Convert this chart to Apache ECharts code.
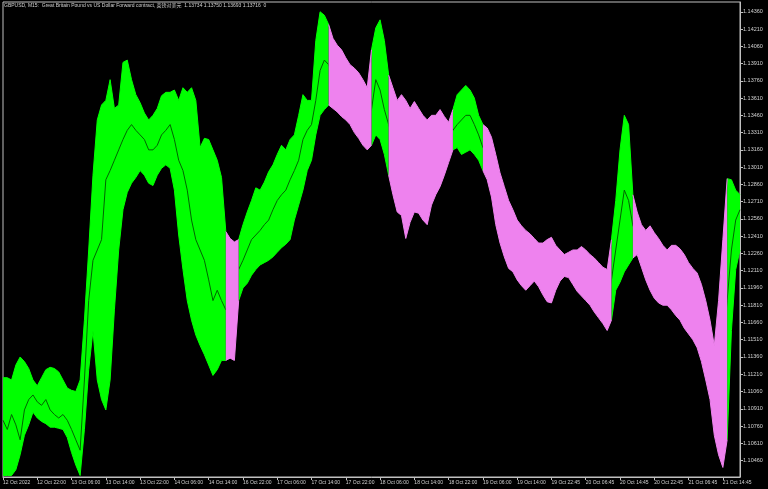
<!DOCTYPE html>
<html><head><meta charset="utf-8">
<script src="https://cdn.jsdelivr.net/npm/echarts@6/dist/echarts.min.js"></script>
<style>html,body{margin:0;padding:0;background:#000;}#c{width:768px;height:489px;}</style>
</head><body><div id="c"></div>
<script>
const chartTitle = 'GBPUSD, M15:  Great Britain Pound vs US Dollar Forward contract, 英镑对美元  1.13734 1.13750 1.13693 1.13716  0';
const tickLabels = ['12 Oct 2022','12 Oct 22:00','13 Oct 06:00','13 Oct 14:00','13 Oct 22:00','14 Oct 06:00','14 Oct 14:00','16 Oct 22:00','17 Oct 06:00','17 Oct 14:00','17 Oct 22:00','18 Oct 06:00','18 Oct 14:00','18 Oct 22:00','19 Oct 06:00','19 Oct 14:00','19 Oct 22:45','20 Oct 06:45','20 Oct 14:45','20 Oct 22:45','21 Oct 06:45','21 Oct 14:45'];
const priceTicks = [1.10460,1.10610,1.10760,1.10910,1.11060,1.11210,1.11360,1.11510,1.11660,1.11810,1.11960,1.12110,1.12260,1.12410,1.12560,1.12710,1.12860,1.13010,1.13160,1.13310,1.13460,1.13610,1.13760,1.13910,1.14060,1.14210,1.14360];
const upper = [1.1118,1.1118,1.1116,1.1129,1.1136,1.1132,1.1126,1.1116,1.1111,1.1118,1.1125,1.1127,1.1126,1.1123,1.1116,1.1109,1.1107,1.1106,1.1116,1.1168,1.1229,1.1294,1.1342,1.1355,1.1359,1.1377,1.1352,1.1355,1.1392,1.1394,1.1377,1.1364,1.1357,1.1348,1.1342,1.1346,1.1352,1.1363,1.1366,1.1366,1.1368,1.1359,1.1370,1.1366,1.1370,1.1359,1.1318,1.1326,1.1325,1.1316,1.1307,1.1292,1.1245,1.1239,1.1236,1.1238,1.1251,1.1262,1.1272,1.1283,1.1281,1.1288,1.1297,1.1303,1.1312,1.1320,1.1316,1.1325,1.1329,1.1346,1.1364,1.1359,1.1359,1.1411,1.1436,1.1433,1.1425,1.1413,1.1407,1.1403,1.1396,1.1390,1.1387,1.1383,1.1377,1.1370,1.1403,1.1422,1.1429,1.1411,1.1381,1.1370,1.1359,1.1364,1.1359,1.1352,1.1358,1.1352,1.1346,1.1342,1.1346,1.1346,1.1351,1.1345,1.1340,1.1351,1.1364,1.1368,1.1372,1.1368,1.1361,1.1346,1.1338,1.1335,1.1327,1.1312,1.1296,1.1284,1.1272,1.1264,1.1255,1.1250,1.1246,1.1243,1.1239,1.1235,1.1235,1.1238,1.1240,1.1233,1.1229,1.1225,1.1227,1.1229,1.1229,1.1232,1.1229,1.1225,1.1222,1.1218,1.1214,1.1212,1.1238,1.1272,1.1316,1.1346,1.1338,1.1277,1.1262,1.1251,1.1246,1.1250,1.1244,1.1239,1.1233,1.1229,1.1233,1.1233,1.1230,1.1225,1.1218,1.1213,1.1209,1.1199,1.1185,1.1168,1.1146,1.1185,1.1238,1.1291,1.1290,1.1281,1.1277];
const lower = [1.1033,1.1033,1.1033,1.1038,1.1051,1.1068,1.1077,1.1088,1.1083,1.1080,1.1078,1.1075,1.1075,1.1074,1.1073,1.1066,1.1053,1.1042,1.1033,1.1073,1.1125,1.1159,1.1116,1.1099,1.1090,1.1116,1.1177,1.1229,1.1264,1.1279,1.1287,1.1292,1.1298,1.1294,1.1287,1.1285,1.1294,1.1300,1.1303,1.1300,1.1281,1.1242,1.1212,1.1185,1.1168,1.1155,1.1146,1.1138,1.1129,1.1120,1.1125,1.1133,1.1133,1.1135,1.1133,1.1185,1.1196,1.1200,1.1207,1.1212,1.1216,1.1218,1.1220,1.1223,1.1227,1.1231,1.1234,1.1238,1.1255,1.1268,1.1281,1.1298,1.1307,1.1329,1.1346,1.1351,1.1355,1.1352,1.1349,1.1345,1.1342,1.1338,1.1331,1.1326,1.1320,1.1316,1.1320,1.1329,1.1325,1.1312,1.1294,1.1277,1.1262,1.1259,1.1239,1.1253,1.1262,1.1261,1.1255,1.1251,1.1268,1.1277,1.1284,1.1294,1.1305,1.1316,1.1318,1.1312,1.1314,1.1316,1.1312,1.1307,1.1298,1.1290,1.1275,1.1251,1.1235,1.1223,1.1213,1.1210,1.1203,1.1198,1.1194,1.1198,1.1202,1.1197,1.1190,1.1184,1.1183,1.1194,1.1202,1.1206,1.1205,1.1199,1.1193,1.1189,1.1185,1.1181,1.1175,1.1170,1.1165,1.1159,1.1168,1.1194,1.1201,1.1210,1.1216,1.1222,1.1225,1.1214,1.1203,1.1194,1.1187,1.1183,1.1181,1.1181,1.1177,1.1172,1.1168,1.1161,1.1156,1.1151,1.1144,1.1132,1.1116,1.1099,1.1068,1.1051,1.1040,1.1064,1.1159,1.1212,1.1229];
const close = [1.1081,1.1073,1.1086,1.1077,1.1064,1.1090,1.1099,1.1103,1.1097,1.1094,1.1099,1.1090,1.1086,1.1083,1.1086,1.1081,1.1073,1.1064,1.1055,1.1116,1.1185,1.1220,1.1229,1.1238,1.1290,1.1298,1.1307,1.1316,1.1325,1.1333,1.1338,1.1333,1.1329,1.1325,1.1316,1.1316,1.1320,1.1329,1.1333,1.1338,1.1325,1.1307,1.1298,1.1281,1.1255,1.1238,1.1229,1.1220,1.1203,1.1185,1.1194,1.1185,1.1177,1.1185,1.1194,1.1212,1.1220,1.1229,1.1238,1.1242,1.1246,1.1251,1.1255,1.1264,1.1272,1.1277,1.1281,1.1290,1.1298,1.1307,1.1325,1.1333,1.1338,1.1359,1.1385,1.1394,1.1390,1.1381,1.1377,1.1372,1.1368,1.1364,1.1359,1.1355,1.1349,1.1344,1.1351,1.1377,1.1368,1.1351,1.1338,1.1325,1.1312,1.1312,1.1298,1.1303,1.1310,1.1307,1.1300,1.1297,1.1307,1.1312,1.1318,1.1320,1.1323,1.1333,1.1338,1.1342,1.1346,1.1346,1.1338,1.1329,1.1318,1.1312,1.1301,1.1281,1.1265,1.1253,1.1243,1.1237,1.1229,1.1224,1.1220,1.1218,1.1218,1.1216,1.1212,1.1211,1.1212,1.1213,1.1216,1.1216,1.1216,1.1213,1.1212,1.1211,1.1207,1.1203,1.1199,1.1194,1.1190,1.1185,1.1203,1.1229,1.1255,1.1281,1.1272,1.1250,1.1244,1.1232,1.1225,1.1222,1.1216,1.1212,1.1207,1.1205,1.1205,1.1203,1.1199,1.1193,1.1187,1.1182,1.1177,1.1165,1.1151,1.1133,1.1107,1.1116,1.1142,1.1185,1.1229,1.1255,1.1264];
const trendStarts = [[0,'up'],[52,'down'],[55,'up'],[76,'down'],[86,'up'],[90,'down'],[105,'up'],[112,'down'],[142,'up'],[147,'down'],[169,'up']];

const N = upper.length;
const categories = [];
for (let i = 0; i < N; i++) {
  const k = Math.floor(i / 8), j = i % 8;
  categories.push(j === 0 ? tickLabels[k] : tickLabels[k] + ' +' + j + 'h');
}
const trend = [];
for (let i = 0; i < N; i++) {
  let t = trendStarts[0][1];
  for (const s of trendStarts) if (s[0] <= i) t = s[1];
  trend.push(t);
}
function part(dir) {
  const base = [], band = [];
  for (let i = 0; i < N; i++) {
    const on = trend[i] === dir || (i > 0 && trend[i - 1] === dir);
    base.push(on ? lower[i] : null);
    band.push(on ? +(upper[i] - lower[i]).toFixed(5) : null);
  }
  return { base, band };
}
const up = part('up'), dn = part('down');
const GREEN = '#00ff00', VIOLET = '#ee82ee', FRAME = '#c0c0c0', TXT = '#d0d0d0';
function bandSeries(p, color, stack, z) {
  return [
    { type: 'line', stack, data: p.base, z, showSymbol: false, symbol: 'none', silent: true,
      lineStyle: { color, width: 1 }, connectNulls: false },
    { type: 'line', stack, data: p.band, z, showSymbol: false, symbol: 'none', silent: true,
      lineStyle: { color, width: 1 }, areaStyle: { color, opacity: 1 }, connectNulls: false }
  ];
}
const chart = echarts.init(document.getElementById('c'));
chart.setOption({
  backgroundColor: '#000',
  animation: false,
  title: { text: chartTitle, left: 4, top: 3, padding: 0,
    textStyle: { color: TXT, fontSize: 5, fontWeight: 'normal', fontFamily: 'Liberation Sans, Noto Sans CJK SC' } },
  grid: { left: 2, right: 28, top: 2, bottom: 12, show: true, borderColor: FRAME, borderWidth: 1, backgroundColor: '#000' },
  xAxis: {
    type: 'category', data: categories, boundaryGap: false,
    axisLine: { show: true, lineStyle: { color: FRAME, width: 1 } },
    axisTick: { show: true, interval: 7, length: 3, lineStyle: { color: FRAME } },
    axisLabel: { interval: 7, formatter: (v, i) => tickLabels[Math.round(i / 8)], align: 'left', margin: 3,
      color: TXT, fontSize: 5, fontFamily: 'Liberation Sans' },
    splitLine: { show: false }
  },
  yAxis: {
    type: 'value', position: 'right', min: 1.10317, max: 1.14445, scale: true,
    axisLine: { show: true, lineStyle: { color: FRAME, width: 1 } },
    axisTick: { show: true, customValues: priceTicks, length: 3, lineStyle: { color: FRAME } },
    axisLabel: { customValues: priceTicks, formatter: v => v.toFixed(5), margin: 3, color: TXT, fontSize: 5.5, fontFamily: 'Liberation Sans' },
    splitLine: { show: false }
  },
  series: [
    ...bandSeries(up, GREEN, 'g', 2),
    { type: 'line', data: close, z: 3, showSymbol: false, symbol: 'none', silent: true, lineStyle: { color: '#006400', width: 1 } },
    ...bandSeries(dn, VIOLET, 'v', 4)
  ]
});
</script></body></html>
